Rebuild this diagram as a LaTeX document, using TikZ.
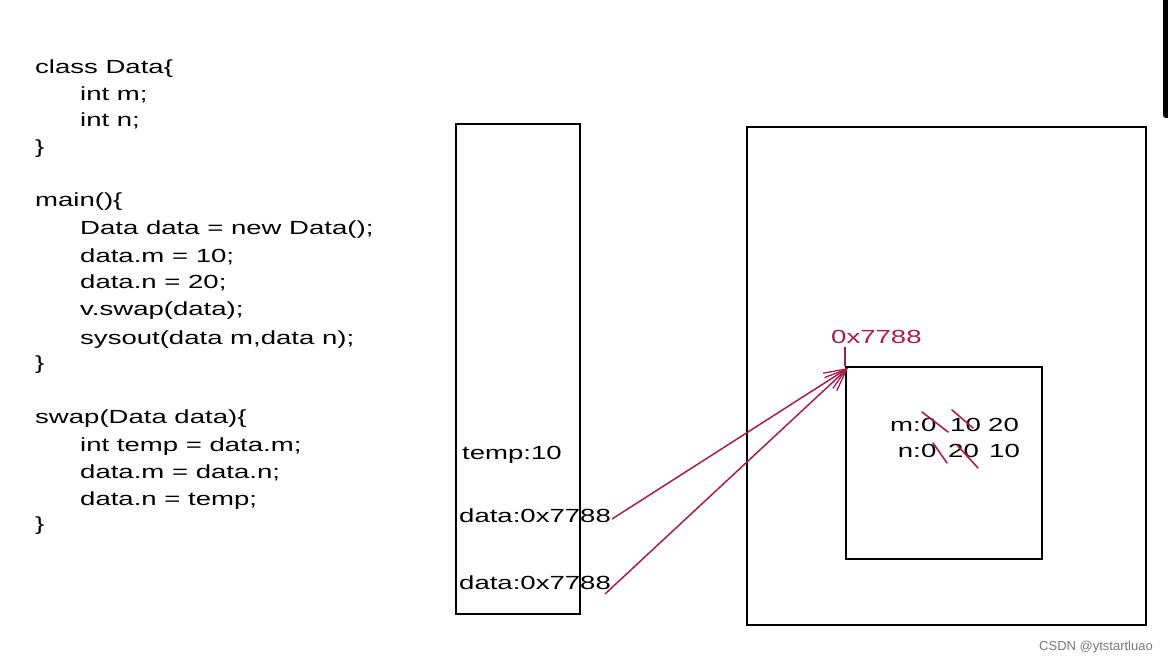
\documentclass[tikz,border=0pt]{standalone}
\usepackage{fontspec}
\setmainfont[FakeStretch=1.45]{Liberation Sans}
\newfontfamily\wmfont{Liberation Sans}
\usetikzlibrary{arrows.meta}
\definecolor{sketchred}{RGB}{166,30,77}
\definecolor{wmgray}{RGB}{120,120,120}
\tikzset{
  code/.style={anchor=base west, inner sep=0pt, font=\fontsize{19}{22}\selectfont},
  redtxt/.style={code, text=sketchred},
  membox/.style={draw=black, line width=2pt, anchor=north west, inner sep=0pt},
  refarrow/.style={draw=sketchred, line width=1.5pt, -{Straight Barb[length=22pt,width=18pt,line width=1.3pt]}},
  strike/.style={draw=sketchred, line width=1.6pt, line cap=round},
}
\begin{document}
\begin{tikzpicture}[x=1pt,y=-1pt]
\useasboundingbox (0,0) rectangle (1168,663);
% screen edge bar
\fill[black, rounded corners=3pt] (1163,-5) rectangle (1172,118);
% code
\node[code] (c1) at (35,74) {class Data\{};
\node[code] (c2) at (80,101) {int m;};
\node[code] (c3) at (80,127) {int n;};
\node[code] (c4) at (35,154) {\}};
\node[code] (c5) at (35,207) {main()\{};
\node[code] (c6) at (80,235) {Data data = new Data();};
\node[code] (c7) at (80,262) {data.m = 10;};
\node[code] (c8) at (80,289) {data.n = 20;};
\node[code] (c9) at (80,316) {v.swap(data);};
\node[code] (c10) at (80,344) {sysout(data m,data n);};
\node[code] (c11) at (35,369) {\}};
\node[code] (c12) at (35,423) {swap(Data data)\{};
\node[code] (c13) at (80,451) {int temp = data.m;};
\node[code] (c14) at (80,478) {data.m = data.n;};
\node[code] (c15) at (80,505) {data.n = temp;};
\node[code] (c16) at (35,530) {\}};
% stack
\node[membox, minimum width=124pt, minimum height=490pt] (stack) at (455,123) {};
\node[code] (temp) at (462,459) {temp:10};
\node[code] (d1) at (459,522) {data:0x7788};
\node[code] (d2) at (459,589) {data:0x7788};
% heap
\node[membox, minimum width=399pt, minimum height=498pt] (heap) at (746,126) {};
\node[membox, minimum width=196pt, minimum height=192pt] (obj) at (845,366) {};
\node[redtxt] (addr) at (831,343) {0x7788};
\draw[draw=sketchred, line width=1.5pt] (845,347) -- (obj.north west);
% fields
\node[code, anchor=base east] (mlab) at (921,431) {m:};
\node[code] (m0) at (921,431) {0};
\node[code] (m10) at (950,431) {10};
\node[code] (m20) at (988,431) {20};
\node[code, anchor=base east] (nlab) at (921,457) {n:};
\node[code] (n0) at (921,457) {0};
\node[code] (n20) at (948,457) {20};
\node[code] (n10) at (989,457) {10};
\draw[strike] (922,412) -- (948,432);
\draw[strike] (952,410) -- (973,428);
\draw[strike] (933,443) -- (947,463);
\draw[strike] (957,445) -- (978,468);
% references
\coordinate (s1) at (612,519);
\coordinate (s2) at (605,594);
\coordinate (tip) at (848,368);
\draw[refarrow] (s1) -- (tip);
\draw[refarrow] (s2) -- (tip);
% watermark
\node[anchor=base east, inner sep=0pt, text=wmgray, font=\wmfont\fontsize{13}{15}\selectfont] (wm) at (1153,650) {CSDN @ytstartluao};
\end{tikzpicture}
\end{document}
